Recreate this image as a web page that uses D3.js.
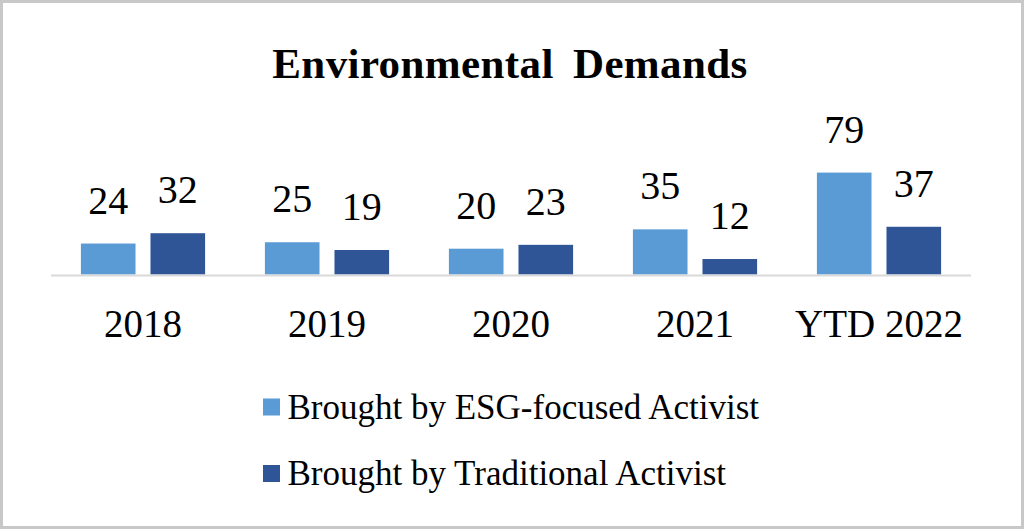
<!DOCTYPE html>
<html>
<head>
<meta charset="utf-8">
<script src="https://cdn.jsdelivr.net/npm/d3@7"></script>
<style>
  html, body { margin: 0; padding: 0; background: #fff; }
  svg { display: block; }
</style>
</head>
<body>
<div id="chart"></div>
<script>
// chart data
const categories = ['2018', '2019', '2020', '2021', 'YTD 2022'];
const seriesNames = ['Brought by ESG-focused Activist', 'Brought by Traditional Activist'];
const esgValues = [24, 25, 20, 35, 79];
const traditionalValues = [32, 19, 23, 12, 37];
const seriesColors = ['#5b9bd5', '#2f5597'];

const width = 1024, height = 529;
const baseline = 274.5;
const font = '"Liberation Serif", "Times New Roman", serif';

const svg = d3.select('#chart').append('svg')
    .attr('width', width)
    .attr('height', height);

// frame
svg.append('rect')
    .attr('x', 1.5).attr('y', 1.5)
    .attr('width', width - 3).attr('height', height - 3)
    .style('fill', '#fff')
    .style('stroke', '#c8c8c8')
    .style('stroke-width', 3);

// title
svg.append('text')
    .attr('x', 510).attr('y', 77.5)
    .text('Environmental Demands')
    .style('font-family', font)
    .style('font-weight', 'bold')
    .style('font-size', '43px')
    .style('word-spacing', '8px')
    .style('letter-spacing', '0.4px')
    .style('text-anchor', 'middle')
    .style('fill', '#000');

// scales
const x = d3.scaleBand()
    .domain(categories)
    .range([51, 971])
    .paddingInner(0.325)
    .paddingOuter(0.1625);

const xSub = d3.scaleBand()
    .domain([0, 1])
    .range([0, x.bandwidth()])
    .paddingInner(0.215);

const y = d3.scaleLinear()
    .domain([0, 100])
    .range([baseline, baseline - 129]);

const rows = categories.map((c, i) => ({cat: c, values: [esgValues[i], traditionalValues[i]]}));

// bars
const groups = svg.selectAll('g.group')
    .data(rows)
    .join('g')
    .classed('group', true)
    .attr('transform', d => `translate(${x(d.cat)},0)`);

groups.selectAll('rect')
    .data(d => d.values.map((v, s) => ({v, s})))
    .join('rect')
    .attr('x', d => xSub(d.s))
    .attr('width', xSub.bandwidth())
    .attr('y', d => y(d.v))
    .attr('height', d => baseline - y(d.v))
    .style('fill', d => seriesColors[d.s]);

// value labels
groups.selectAll('text')
    .data(d => d.values.map((v, s) => ({v, s})))
    .join('text')
    .attr('x', d => xSub(d.s) + xSub.bandwidth() / 2)
    .attr('y', d => y(d.v) - 30)
    .text(d => d.v)
    .style('font-family', font)
    .style('font-size', '40px')
    .style('text-anchor', 'middle')
    .style('fill', '#000');

// category axis
const axis = svg.append('g')
    .attr('transform', `translate(0,${baseline + 1})`)
    .call(d3.axisBottom(x).tickSize(0).tickPadding(0));
axis.select('.domain')
    .attr('d', `M${x.range()[0]},0H${x.range()[1]}`)
    .style('stroke', '#d9d9d9')
    .style('stroke-width', 2);
axis.selectAll('text')
    .attr('y', 61)
    .attr('dy', null)
    .style('font-family', font)
    .style('font-size', '39px')
    .style('fill', '#000');

// legend
const legend = svg.selectAll('g.legend')
    .data(seriesNames)
    .join('g')
    .classed('legend', true)
    .attr('transform', (d, i) => `translate(263,${398.5 + i * 66.5})`);

legend.append('rect')
    .attr('width', 17).attr('height', 17)
    .style('fill', (d, i) => seriesColors[i]);

legend.append('text')
    .attr('x', 24.5).attr('y', 20)
    .text(d => d)
    .style('font-family', font)
    .style('font-size', '35px')
    .style('fill', '#000');
</script>
</body>
</html>
